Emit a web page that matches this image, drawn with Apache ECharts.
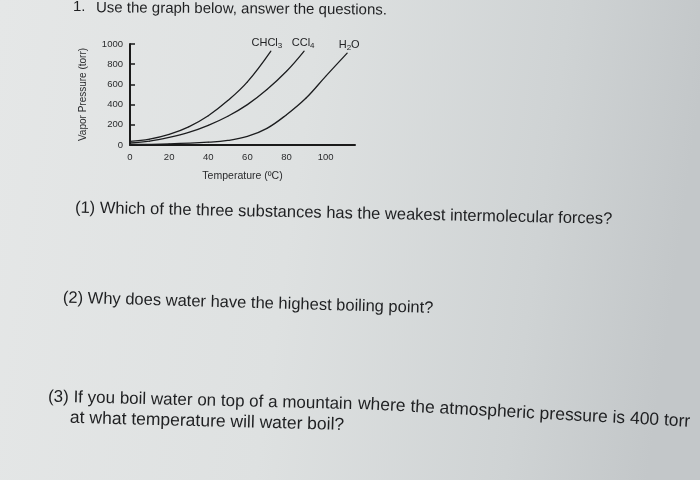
<!DOCTYPE html>
<html>
<head>
<meta charset="utf-8">
<script src="https://cdn.jsdelivr.net/npm/echarts@6/dist/echarts.min.js"></script>
<style>html,body{margin:0;padding:0;}#c{width:700px;height:480px;}</style>
</head>
<body>
<div id="c"></div>
<script>
// ---- data ----
const seriesNames = ['CHCl3', 'CCl4', 'H2O'];
const tempCHCl3 = [0, 10, 20, 30, 40, 50, 60, 72];
const presCHCl3 = [35, 58, 105, 180, 290, 440, 625, 930];
const tempCCl4 = [0, 10, 20, 30, 40, 50, 60, 70, 80, 89];
const presCCl4 = [20, 38, 75, 125, 195, 285, 400, 550, 730, 930];
const tempH2O = [0, 20, 40, 50, 60, 70, 80, 90, 100, 111];
const presH2O = [5, 12, 28, 45, 85, 165, 300, 465, 680, 910];
const xTickLabels = [0, 20, 40, 60, 80, 100];
const yTickLabels = [0, 200, 400, 600, 800, 1000];

const labelRich = {
  CHCl3: '{n|CHCl}{s|3}',
  CCl4: '{n|CCl}{s|4}',
  H2O: '{n|H}{s|2}{n|O}'
};

function build(temps, pres) {
  return temps.map((t, i) => {
    const item = { value: [t, pres[i]] };
    if (i === temps.length - 1) {
      item.label = { show: true };
    }
    return item;
  });
}

const txtColor = '#1f2022';
const chart = echarts.init(document.getElementById('c'));

function mkSeries(name, temps, pres, off) {
  return {
    name: name,
    type: 'line',
    smooth: 0.4,
    symbol: 'circle',
    symbolSize: 1,
    showSymbol: true,
    itemStyle: { color: '#1c1d1f' },
    data: build(temps, pres),
    lineStyle: { color: '#1c1d1f', width: 1.3 },
    label: {
      show: false,
      position: 'top',
      distance: 1,
      offset: [off, 0],
      formatter: () => labelRich[name],
      rich: {
        n: { fontFamily: 'Liberation Sans', fontSize: 11, color: '#222325' },
        s: { fontFamily: 'Liberation Sans', fontSize: 8, color: '#222325', padding: [6, 0, 0, 0] }
      }
    },
    emphasis: { disabled: true },
    z: 3
  };
}

const qStyle = { fontFamily: 'Liberation Sans', fontSize: 16.5, fill: txtColor, textVerticalAlign: 'middle', textAlign: 'left' };
function q(x, y, rot, text, size) {
  return { type: 'text', x: x, y: y, rotation: rot, silent: true, style: Object.assign({}, qStyle, { text: text, fontSize: size }) };
}

chart.setOption({
  animation: false,
  graphic: [
    {
      type: 'rect', z: -10, silent: true,
      shape: { x: 0, y: 0, width: 700, height: 480 },
      style: {
        fill: new echarts.graphic.LinearGradient(0, 0, 1, 0.2, [
          { offset: 0, color: '#e5e7e7' },
          { offset: 0.45, color: '#dee1e1' },
          { offset: 0.8, color: '#cfd3d4' },
          { offset: 1, color: '#c3c7c9' }
        ])
      }
    },
    q(73, 7, 0, '1.', 15),
    q(96, 8, -0.008, 'Use the graph below, answer the questions.', 15),
    q(75, 208, -0.021, '(1) Which of the three substances has the weakest intermolecular forces?', 16.5),
    q(63, 298, -0.028, '(2) Why does water have the highest boiling point?', 16.5),
    q(48, 397, -0.024, '(3) If you boil water on top of a mountain', 17),
    q(358, 404, -0.054, 'where the atmospheric pressure is 400 torr', 17.5),
    q(70, 418, -0.026, 'at what temperature will water boil?', 17.5)
  ],
  grid: { left: 130, top: 44, width: 225, height: 101, containLabel: false },
  xAxis: {
    type: 'value',
    min: 0, max: 115, interval: 20,
    name: 'Temperature (\u00BAC)',
    nameLocation: 'middle',
    nameGap: 26,
    nameTextStyle: { fontFamily: 'Liberation Sans', fontSize: 10.5, color: '#2a2b2d' },
    axisLine: { show: true, lineStyle: { color: '#1a1a1a', width: 2 } },
    axisTick: { show: false },
    splitLine: { show: false },
    axisLabel: {
      margin: 7,
      fontFamily: 'Liberation Sans', fontSize: 9.5, color: '#2a2b2d',
      formatter: v => (xTickLabels.indexOf(v) >= 0 ? String(v) : '')
    }
  },
  yAxis: {
    type: 'value',
    min: 0, max: 1000, interval: 200,
    name: 'Vapor Pressure (torr)',
    nameLocation: 'middle',
    nameGap: 42,
    nameTextStyle: { fontFamily: 'Liberation Sans', fontSize: 10, color: '#2a2b2d' },
    axisLine: { show: true, lineStyle: { color: '#1a1a1a', width: 2 } },
    axisTick: { show: true, inside: true, length: 5, lineStyle: { color: '#1a1a1a', width: 1.5 } },
    splitLine: { show: false },
    axisLabel: {
      margin: 7,
      fontFamily: 'Liberation Sans', fontSize: 9.5, color: '#2a2b2d',
      formatter: v => (yTickLabels.indexOf(v) >= 0 ? String(v) : '')
    }
  },
  series: [
    mkSeries('CHCl3', tempCHCl3, presCHCl3, -4),
    mkSeries('CCl4', tempCCl4, presCCl4, -1),
    mkSeries('H2O', tempH2O, presH2O, 2)
  ]
});
</script>
</body>
</html>
